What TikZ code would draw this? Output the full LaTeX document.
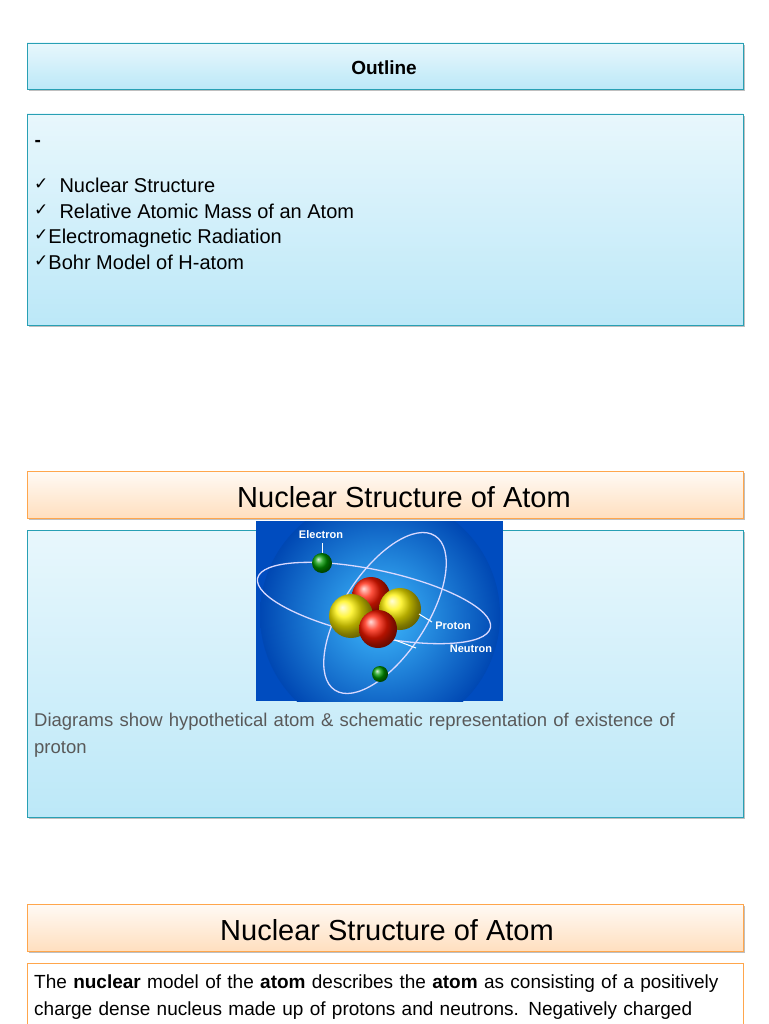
\documentclass[tikz,border=0pt]{standalone}
\usepackage{fontspec}
\setmainfont{Liberation Sans}
\newfontfamily\djv{DejaVu Sans}
\definecolor{bluebot}{RGB}{188,232,248}
\definecolor{bluetop}{RGB}{232,247,252}
\definecolor{blueedge}{RGB}{40,160,180}
\begin{document}
\begin{tikzpicture}[x=1pt,y=-1pt,
 bluebox/.style={draw=blueedge, line width=0.8pt, top color=bluetop, bottom color=bluebot},
 orangebox/.style={draw=orange!70, line width=0.8pt, top color=orange!4, bottom color=orange!25},
 whitebox/.style={draw=orange!70, line width=1pt, fill=white},
 shadowed/.style={preaction={fill=black!25, transform canvas={xshift=1.5pt,yshift=-2pt}}},
 lbl/.style={white,font=\bfseries\fontsize{11}{12}\selectfont},
 chk/.style={}]
\useasboundingbox (0,0) rectangle (768,1024);
\fill[white] (0,0) rectangle (768,1024);
% Outline
\path[bluebox,shadowed] (27,43) rectangle (743,89);
\node[font=\bfseries\fontsize{19}{22}\selectfont] (outline) at (384,68) {Outline};
\path[bluebox,shadowed] (27,114) rectangle (743,325);
\node[anchor=west,font=\bfseries\fontsize{19}{22}\selectfont] (dash) at (31,143) {-};
\node[anchor=north west,align=left,inner sep=0pt,font=\fontsize{20}{25.5}\selectfont] (list) at (34,178)
 {\raisebox{3pt}{\djv\fontsize{17}{17}\selectfont ✓}\ \ Nuclear Structure\\
  \raisebox{3pt}{\djv\fontsize{17}{17}\selectfont ✓}\ \ Relative Atomic Mass of an Atom\\
  \raisebox{3pt}{\djv\fontsize{17}{17}\selectfont ✓}Electromagnetic Radiation\\
  \raisebox{3pt}{\djv\fontsize{17}{17}\selectfont ✓}Bohr Model of H-atom};
% Section 1
\path[orangebox,shadowed] (27,471) rectangle (743,518);
\node[font=\fontsize{29}{32}\selectfont] (t1) at (404,497) {Nuclear Structure of Atom};
\path[bluebox,shadowed] (27,530) rectangle (743,817);
% atom image
\begin{scope}
\clip (256,521) rectangle (503,701);
\fill[blue!60!cyan!75!black] (256,521) rectangle (503,701);
\shade[inner color=blue!35!cyan!75, outer color=blue!60!cyan!70!black] (380,615) circle (120);
\draw[white!85!blue, line width=1.3pt, rotate around={-12:(374,603)}] (374,603) ellipse (119 and 33);
\draw[white!85!blue, line width=1.3pt, rotate around={57:(385,613)}] (385,613) ellipse (92 and 42);
\shade[ball color=green!60!black] (322,563) circle (10);
\shade[ball color=green!60!black] (380,674) circle (8);
\shade[ball color=red!80!orange] (371,596) circle (19);
\shade[ball color=yellow!90!orange] (400,609) circle (21);
\shade[ball color=yellow!90!orange] (351,616) circle (22);
\shade[ball color=red!80!orange] (378,629) circle (19);
\draw[white, line width=1pt] (322,553) -- (322,543);
\draw[white, line width=1pt] (419,614) -- (432,622);
\draw[white, line width=1pt] (395,640) -- (416,648);
\node[lbl] (el) at (321,535) {Electron};
\node[lbl] (pr) at (453,626) {Proton};
\node[lbl] (ne) at (471,649) {Neutron};
\end{scope}
\node[anchor=north west,align=left,text width=670pt,inner sep=0pt,text=black!65,font=\fontsize{18.5}{27}\selectfont] (cap) at (34,713)
 {Diagrams show hypothetical atom \& schematic representation of existence of proton};
% Section 2
\path[orangebox,shadowed] (27,904) rectangle (743,951);
\node[font=\fontsize{29}{32}\selectfont] (t2) at (387,930) {Nuclear Structure of Atom};
\path[whitebox] (27,963) rectangle (743,1030);
\node[anchor=north west,align=left,text width=700pt,inner sep=0pt,font=\fontsize{19}{27}\selectfont] (body) at (34,975)
 {The \textbf{nuclear} model of the \textbf{atom} describes the \textbf{atom} as consisting of a positively charge dense nucleus made up of protons and neutrons. Negatively charged};
\end{tikzpicture}
\end{document}
